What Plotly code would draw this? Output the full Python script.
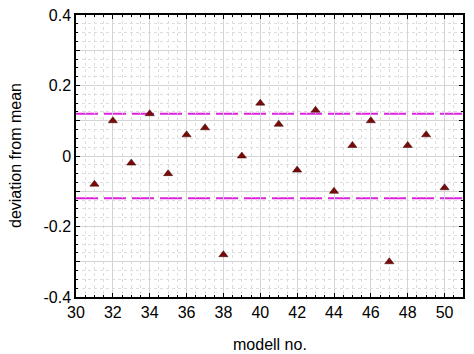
import plotly.graph_objects as go

models = list(range(31, 51))
deviation = [-0.08, 0.10, -0.02, 0.12, -0.05, 0.06, 0.08, -0.28, 0.00, 0.15,
             0.09, -0.04, 0.13, -0.10, 0.03, 0.10, -0.30, 0.03, 0.06, -0.09]
limits = [0.12, -0.12]
x_ticks = list(range(30, 51, 2))
y_tickvals = [-0.4, -0.3, -0.2, -0.1, 0, 0.1, 0.2, 0.3, 0.4]
y_ticktext = ["-0.4", "", "-0.2", "", "0", "", "0.2", "", "0.4"]

fig = go.Figure()
fig.add_trace(go.Scatter(
    x=models, y=deviation, mode="markers",
    marker=dict(symbol="triangle-up", size=8, color="#7a0a0a",
                line=dict(color="#3a0000", width=0.5)),
    showlegend=False, cliponaxis=False))

for lv in limits:
    fig.add_shape(type="line", xref="paper", x0=0, x1=1, yref="y", y0=lv, y1=lv,
                  line=dict(color="#dd22dd", width=2, dash="22px,6px"), layer="below")

fig.add_annotation(text="modell no.", xref="paper", yref="paper", x=0.5, y=0,
                   xanchor="center", yanchor="middle", yshift=-47, showarrow=False,
                   font=dict(size=16))
fig.add_annotation(text="deviation from mean", xref="paper", yref="paper", x=0, y=0.5,
                   xanchor="center", yanchor="middle", xshift=-61, textangle=-90,
                   showarrow=False, font=dict(size=16))

fig.update_layout(
    width=474, height=354,
    margin=dict(l=76, r=11, t=15, b=57),
    plot_bgcolor="white", paper_bgcolor="white",
    font=dict(family="Liberation Sans, Arial, sans-serif", size=16, color="black"),
    xaxis=dict(
        range=[30, 51], tickvals=x_ticks, ticks="inside", ticklen=4,
        tickcolor="black", showline=True, linecolor="black", linewidth=1.5,
        mirror="ticks", showgrid=True, gridcolor="#d4d4d4", gridwidth=1,
        zeroline=False, automargin=False,
        minor=dict(dtick=0.5, showgrid=True, gridcolor="#dddddd",
                   griddash="dot", ticks="inside", ticklen=2, tickcolor="black"),
    ),
    yaxis=dict(
        range=[-0.4, 0.4], tickvals=y_tickvals, ticktext=y_ticktext,
        ticks="inside", ticklen=4, tickcolor="black",
        showline=True, linecolor="black", linewidth=1.5, mirror="ticks",
        showgrid=True, gridcolor="#d4d4d4", gridwidth=1, zeroline=False,
        automargin=False,
        minor=dict(dtick=0.025, tick0=0, showgrid=True, gridcolor="#dddddd",
                   griddash="dot", ticks="inside", ticklen=2, tickcolor="black"),
    ),
)

fig.write_html("out.html")
